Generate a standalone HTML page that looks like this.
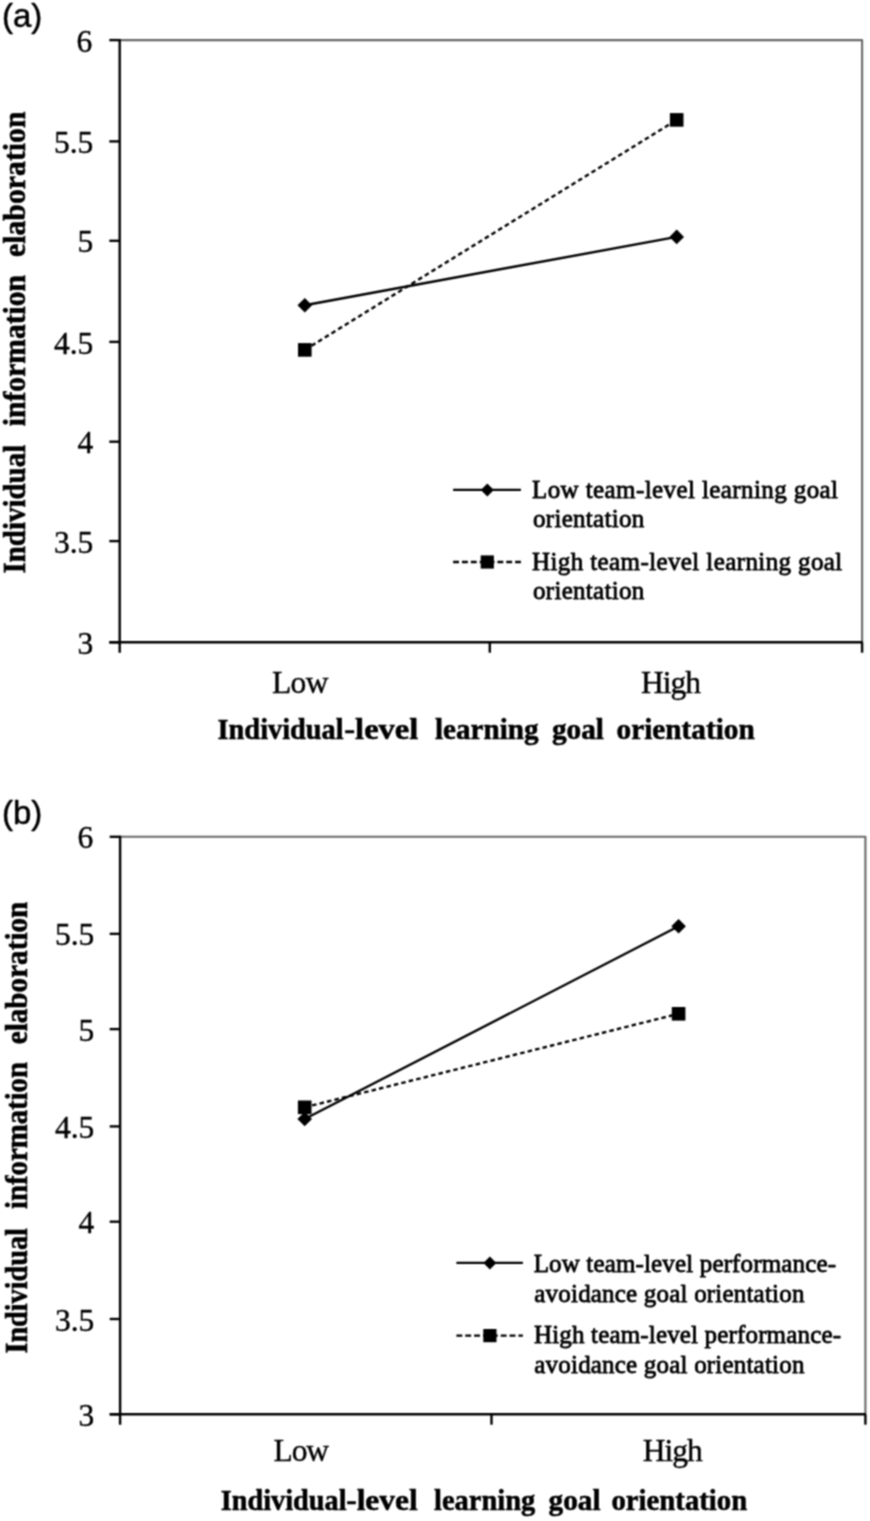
<!DOCTYPE html>
<html lang="en">
<head>
<meta charset="utf-8">
<title>Figure</title>
<style>
html,body{margin:0;padding:0;background:#fff;}
svg{display:block;}
text{fill:#000;stroke:#000;stroke-width:0.8px;stroke-linejoin:round;}
text.d{stroke-width:0.4px;}
text.t{stroke-width:0.5px;}
text.b{stroke-width:0.55px;}
</style>
</head>
<body>
<svg width="870" height="1521" viewBox="0 0 870 1521">
<defs>
<filter id="soft" x="0" y="0" width="870" height="1521" filterUnits="userSpaceOnUse" color-interpolation-filters="sRGB">
<feConvolveMatrix order="3" kernelMatrix="1 2 1 2 4 2 1 2 1" divisor="16" edgeMode="duplicate" preserveAlpha="true"/>
</filter>
</defs>
<g filter="url(#soft)">
<rect width="870" height="1521" fill="#fff"/>
<g id="chart-a">
<path d="M119.7 40.1 H862.1 V642.3" fill="none" stroke="#686868" stroke-width="2.1" stroke-linejoin="round"/>
<path d="M119.7 39.1 V652.6999999999999" fill="none" stroke="#000" stroke-width="2.4"/>
<path d="M109.3 642.3 H862.7" fill="none" stroke="#000" stroke-width="2.4"/>
<path d="M109.3 642.30 H119.7" stroke="#000" stroke-width="2.4"/>
<text x="93.3" y="653.90" text-anchor="end" class="d" font-family="'Liberation Serif','Times New Roman',serif" font-size="31.5">3</text>
<path d="M109.3 541.10 H119.7" stroke="#000" stroke-width="2.4"/>
<text x="93.3" y="552.70" text-anchor="end" class="d" font-family="'Liberation Serif','Times New Roman',serif" font-size="31.5">3.5</text>
<path d="M109.3 441.70 H119.7" stroke="#000" stroke-width="2.4"/>
<text x="93.3" y="453.30" text-anchor="end" class="d" font-family="'Liberation Serif','Times New Roman',serif" font-size="31.5">4</text>
<path d="M109.3 341.90 H119.7" stroke="#000" stroke-width="2.4"/>
<text x="93.3" y="353.50" text-anchor="end" class="d" font-family="'Liberation Serif','Times New Roman',serif" font-size="31.5">4.5</text>
<path d="M109.3 240.80 H119.7" stroke="#000" stroke-width="2.4"/>
<text x="93.3" y="252.40" text-anchor="end" class="d" font-family="'Liberation Serif','Times New Roman',serif" font-size="31.5">5</text>
<path d="M109.3 141.40 H119.7" stroke="#000" stroke-width="2.4"/>
<text x="93.3" y="153.00" text-anchor="end" class="d" font-family="'Liberation Serif','Times New Roman',serif" font-size="31.5">5.5</text>
<path d="M109.3 40.10 H119.7" stroke="#000" stroke-width="2.4"/>
<text x="92.3" y="51.70" text-anchor="end" class="d" font-family="'Liberation Serif','Times New Roman',serif" font-size="31.5">6</text>
<path d="M489.80 642.3 V652.6999999999999" stroke="#000" stroke-width="2.4"/>
<path d="M862.10 642.3 V652.6999999999999" stroke="#000" stroke-width="2.4"/>
<text x="271.9" y="692.8" class="d" font-family="'Liberation Serif','Times New Roman',serif" font-size="31.5" textLength="56.5" lengthAdjust="spacing">Low</text>
<text x="641" y="692.8" class="d" font-family="'Liberation Serif','Times New Roman',serif" font-size="31.5" textLength="60" lengthAdjust="spacing">High</text>
<text y="738.6" font-family="'Liberation Serif','Times New Roman',serif" font-size="30.2" class="b" font-weight="bold"><tspan x="217.6" textLength="126.0" lengthAdjust="spacingAndGlyphs">Individual</tspan><tspan x="344.3" textLength="74.0" lengthAdjust="spacingAndGlyphs">-level</tspan> <tspan x="435.0" textLength="103.5" lengthAdjust="spacingAndGlyphs">learning</tspan> <tspan x="552.0" textLength="52.0" lengthAdjust="spacingAndGlyphs">goal</tspan> <tspan x="616.5" textLength="138.3" lengthAdjust="spacingAndGlyphs">orientation</tspan></text>
<text transform="translate(25.2 0) rotate(-90)" y="0" font-family="'Liberation Serif','Times New Roman',serif" font-size="32" class="b" font-weight="bold"><tspan x="-573.6" textLength="128.8" lengthAdjust="spacingAndGlyphs">Individual</tspan> <tspan x="-426.2" textLength="151.2" lengthAdjust="spacingAndGlyphs">information</tspan> <tspan x="-257.0" textLength="145.5" lengthAdjust="spacingAndGlyphs">elaboration</tspan></text>
<path d="M304.80 305.20 L676.70 236.90" stroke="#000" stroke-width="2.4" fill="none"/>
<path d="M297.50 305.20 L304.80 297.90 L312.10 305.20 L304.80 312.50Z" fill="#000"/>
<path d="M669.40 236.90 L676.70 229.60 L684.00 236.90 L676.70 244.20Z" fill="#000"/>
<path d="M304.80 349.90 L676.70 119.90" stroke="#000" stroke-width="2.4" stroke-dasharray="4.6 3.24" fill="none"/>
<rect x="298.00" y="343.10" width="13.60" height="13.60" fill="#000"/>
<rect x="669.90" y="113.10" width="13.60" height="13.60" fill="#000"/>
<path d="M453.1 489.9 H520.9" stroke="#000" stroke-width="2.4"/>
<path d="M480.80 489.90 L487.30 483.40 L493.80 489.90 L487.30 496.40Z" fill="#000"/>
<text x="532" y="498.4" font-family="'Liberation Serif','Times New Roman',serif" font-size="25" textLength="306" lengthAdjust="spacing">Low team-level learning goal</text>
<text x="533" y="527" font-family="'Liberation Serif','Times New Roman',serif" font-size="25" textLength="111.3" lengthAdjust="spacing">orientation</text>
<path d="M453.1 562 H520.9" stroke="#000" stroke-width="2.4" stroke-dasharray="5.9 2.96"/>
<rect x="480.70" y="555.40" width="13.20" height="13.20" fill="#000"/>
<text x="532" y="570" font-family="'Liberation Serif','Times New Roman',serif" font-size="25" textLength="310.3" lengthAdjust="spacing">High team-level learning goal</text>
<text x="533" y="598.5" font-family="'Liberation Serif','Times New Roman',serif" font-size="25" textLength="111.3" lengthAdjust="spacing">orientation</text>
<text x="2" y="26.7" class="t" font-family="'Liberation Sans',Arial,sans-serif" font-size="33">(a)</text>
</g>
<g id="chart-b">
<path d="M120.1 836.8 H865.4 V1414.3" fill="none" stroke="#686868" stroke-width="2.1" stroke-linejoin="round"/>
<path d="M120.1 835.8 V1424.7" fill="none" stroke="#000" stroke-width="2.4"/>
<path d="M109.69999999999999 1414.3 H866.0" fill="none" stroke="#000" stroke-width="2.4"/>
<path d="M109.69999999999999 1414.30 H120.1" stroke="#000" stroke-width="2.4"/>
<text x="94.3" y="1425.90" text-anchor="end" class="d" font-family="'Liberation Serif','Times New Roman',serif" font-size="31.5">3</text>
<path d="M109.69999999999999 1319.00 H120.1" stroke="#000" stroke-width="2.4"/>
<text x="94.3" y="1330.60" text-anchor="end" class="d" font-family="'Liberation Serif','Times New Roman',serif" font-size="31.5">3.5</text>
<path d="M109.69999999999999 1221.70 H120.1" stroke="#000" stroke-width="2.4"/>
<text x="94.3" y="1233.30" text-anchor="end" class="d" font-family="'Liberation Serif','Times New Roman',serif" font-size="31.5">4</text>
<path d="M109.69999999999999 1126.40 H120.1" stroke="#000" stroke-width="2.4"/>
<text x="94.3" y="1138.00" text-anchor="end" class="d" font-family="'Liberation Serif','Times New Roman',serif" font-size="31.5">4.5</text>
<path d="M109.69999999999999 1029.10 H120.1" stroke="#000" stroke-width="2.4"/>
<text x="94.3" y="1040.70" text-anchor="end" class="d" font-family="'Liberation Serif','Times New Roman',serif" font-size="31.5">5</text>
<path d="M109.69999999999999 933.85 H120.1" stroke="#000" stroke-width="2.4"/>
<text x="94.3" y="945.45" text-anchor="end" class="d" font-family="'Liberation Serif','Times New Roman',serif" font-size="31.5">5.5</text>
<path d="M109.69999999999999 836.80 H120.1" stroke="#000" stroke-width="2.4"/>
<text x="93.3" y="848.40" text-anchor="end" class="d" font-family="'Liberation Serif','Times New Roman',serif" font-size="31.5">6</text>
<path d="M491.50 1414.3 V1424.7" stroke="#000" stroke-width="2.4"/>
<path d="M865.40 1414.3 V1424.7" stroke="#000" stroke-width="2.4"/>
<text x="273.6" y="1461" class="d" font-family="'Liberation Serif','Times New Roman',serif" font-size="31.5" textLength="55.5" lengthAdjust="spacing">Low</text>
<text x="642.7" y="1461" class="d" font-family="'Liberation Serif','Times New Roman',serif" font-size="31.5" textLength="60" lengthAdjust="spacing">High</text>
<text y="1510" font-family="'Liberation Serif','Times New Roman',serif" font-size="30.2" class="b" font-weight="bold"><tspan x="220.8" textLength="125.7" lengthAdjust="spacingAndGlyphs">Individual</tspan><tspan x="346.2" textLength="71.5" lengthAdjust="spacingAndGlyphs">-level</tspan> <tspan x="434.0" textLength="101.2" lengthAdjust="spacingAndGlyphs">learning</tspan> <tspan x="548.6" textLength="52.0" lengthAdjust="spacingAndGlyphs">goal</tspan> <tspan x="611.5" textLength="135.7" lengthAdjust="spacingAndGlyphs">orientation</tspan></text>
<text transform="translate(27 0) rotate(-90)" y="0" font-family="'Liberation Serif','Times New Roman',serif" font-size="32" class="b" font-weight="bold"><tspan x="-1353.6" textLength="125.5" lengthAdjust="spacingAndGlyphs">Individual</tspan> <tspan x="-1209.0" textLength="147.0" lengthAdjust="spacingAndGlyphs">information</tspan> <tspan x="-1044.3" textLength="142.6" lengthAdjust="spacingAndGlyphs">elaboration</tspan></text>
<path d="M304.70 1119.00 L678.60 926.30" stroke="#000" stroke-width="2.4" fill="none"/>
<path d="M297.40 1119.00 L304.70 1111.70 L312.00 1119.00 L304.70 1126.30Z" fill="#000"/>
<path d="M671.30 926.30 L678.60 919.00 L685.90 926.30 L678.60 933.60Z" fill="#000"/>
<path d="M304.70 1107.30 L678.60 1013.80" stroke="#000" stroke-width="2.4" stroke-dasharray="4.5 3.16" fill="none"/>
<rect x="297.90" y="1100.50" width="13.60" height="13.60" fill="#000"/>
<rect x="671.80" y="1007.00" width="13.60" height="13.60" fill="#000"/>
<path d="M456.4 1262.9 H522.9" stroke="#000" stroke-width="2.4"/>
<path d="M483.40 1262.90 L489.90 1256.40 L496.40 1262.90 L489.90 1269.40Z" fill="#000"/>
<text x="533.7" y="1271.7" font-family="'Liberation Serif','Times New Roman',serif" font-size="25" textLength="302.3" lengthAdjust="spacing">Low team-level performance-</text>
<text x="534.3" y="1302" font-family="'Liberation Serif','Times New Roman',serif" font-size="25" textLength="270.1" lengthAdjust="spacing">avoidance goal orientation</text>
<path d="M456.4 1335.6 H522.9" stroke="#000" stroke-width="2.4" stroke-dasharray="5.9 2.96"/>
<rect x="483.30" y="1329.00" width="13.20" height="13.20" fill="#000"/>
<text x="534" y="1342.5" font-family="'Liberation Serif','Times New Roman',serif" font-size="25" textLength="307" lengthAdjust="spacing">High team-level performance-</text>
<text x="534.3" y="1372.8" font-family="'Liberation Serif','Times New Roman',serif" font-size="25" textLength="270.1" lengthAdjust="spacing">avoidance goal orientation</text>
<text x="2" y="824.2" class="t" font-family="'Liberation Sans',Arial,sans-serif" font-size="33">(b)</text>
</g>
</g>
</svg>
</body>
</html>
